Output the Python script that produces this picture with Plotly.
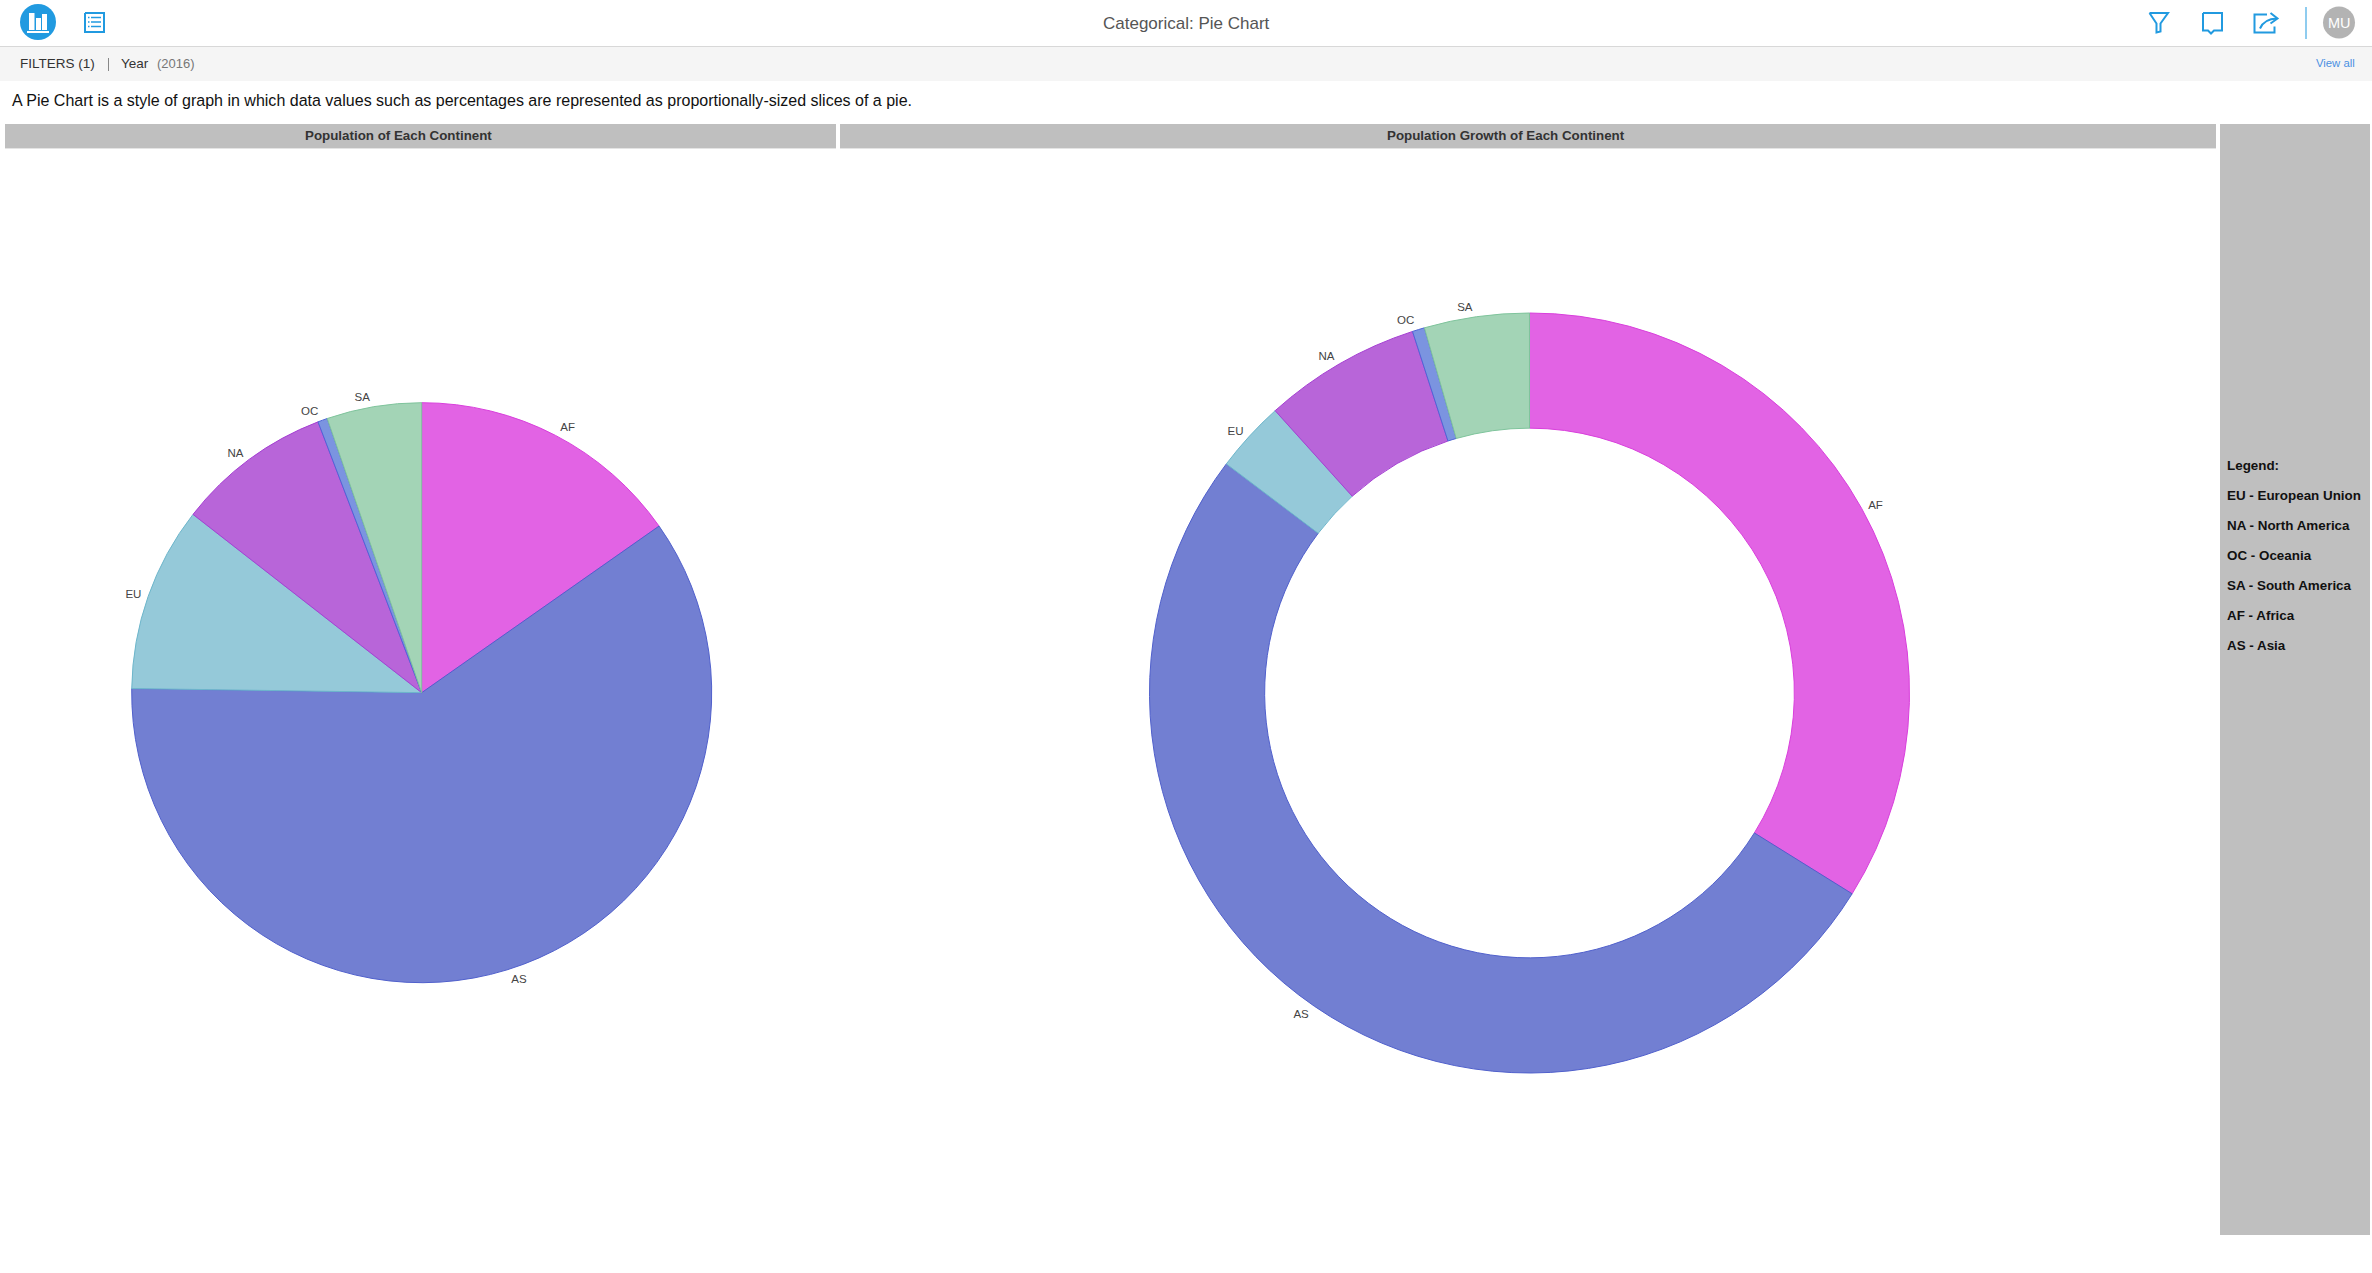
import plotly.graph_objects as go

W = 2372
H = 1273

continents = ['AF', 'AS', 'EU', 'NA', 'OC', 'SA']
population = [15.26, 59.97, 10.31, 8.64, 0.54, 5.28]
growth = [33.86, 51.44, 3.03, 6.69, 0.52, 4.46]

fill_colors = ['#e263e4', '#727fd2', '#95c9d9', '#b865d9', '#7b94e0', '#a3d4b6']
line_colors = ['#d93fdc', '#5060cc', '#6db6cb', '#a53fd3', '#4f66d6', '#7fc49c']

legend_lines = ['Legend:', 'EU - European Union', 'NA - North America', 'OC - Oceania',
                'SA - South America', 'AF - Africa', 'AS - Asia']

FONT = 'Liberation Sans'
BLUE = '#219ae0'
PANEL = '#bfbfbf'
LABEL_GAP = 4


def px(x, y):
    """pixel position on the page -> paper coordinates"""
    return x / W, 1 - y / H


def path(*points):
    """builds a closed-less svg path in paper coordinates from pixel points"""
    parts = []
    for i, (x, y) in enumerate(points):
        a, b = px(x, y)
        parts.append(('M' if i == 0 else 'L') + f'{a:.6f},{b:.6f}')
    return ' '.join(parts)


def pie_domain(cx, cy, r):
    return {'x': [(cx - r) / W, (cx + r) / W], 'y': [1 - (cy + r) / H, 1 - (cy - r) / H]}


def rect(x0, y0, x1, y1, color):
    a0, b0 = px(x0, y0)
    a1, b1 = px(x1, y1)
    return dict(type='rect', xref='paper', yref='paper', x0=a0, y0=b0, x1=a1, y1=b1,
                fillcolor=color, line={'width': 0}, layer='below')


def line(points, color=BLUE, width=2):
    return dict(type='path', xref='paper', yref='paper', path=path(*points),
                line={'color': color, 'width': width})


def circle(cx, cy, r, color):
    a0, b0 = px(cx - r, cy + r)
    a1, b1 = px(cx + r, cy - r)
    return dict(type='circle', xref='paper', yref='paper', x0=a0, y0=b0, x1=a1, y1=b1,
                fillcolor=color, line={'width': 0})


def label(x, y, text, size=13, color='#444444', anchor='left'):
    a, b = px(x, y)
    return dict(x=a, y=b, xref='paper', yref='paper', text=text, showarrow=False,
                xanchor=anchor, yanchor='middle', borderpad=0,
                font={'family': FONT, 'size': size, 'color': color})


def add_pie(fig, values, cx, cy, r, hole=0):
    fig.add_trace(go.Pie(
        labels=continents, values=values, domain=pie_domain(cx, cy, r), hole=hole,
        sort=False, direction='clockwise', rotation=0, textinfo='none',
        marker={'colors': fill_colors, 'line': {'color': line_colors, 'width': 1}},
        showlegend=False))
    # same slices, slightly wider and see-through: only carries the outside labels
    fig.add_trace(go.Pie(
        labels=continents, values=values, domain=pie_domain(cx, cy, r + LABEL_GAP),
        sort=False, direction='clockwise', rotation=0,
        textinfo='label', textposition='outside', automargin=False,
        textfont={'family': FONT, 'size': 11.5, 'color': '#444444'},
        marker={'colors': ['rgba(0,0,0,0)'] * 6, 'line': {'width': 0}},
        hoverinfo='skip', showlegend=False))


fig = go.Figure()
add_pie(fig, population, 421.7, 692.7, 290)
add_pie(fig, growth, 1529.5, 693, 380, hole=0.697)

# page chrome
shapes = [
    rect(0, 46, W, 47, '#d8d8d8'),
    rect(0, 47, W, 81, '#f5f5f5'),
    rect(108, 58, 109, 71, '#888888'),
    rect(5, 124, 836, 148, PANEL),
    rect(840, 124, 2216, 148, PANEL),
    rect(5, 148, 836, 149, '#e4e4e4'),
    rect(840, 148, 2216, 149, '#e4e4e4'),
    rect(2220, 124, 2370, 1235, PANEL),
    rect(2305.5, 7, 2306.5, 39, BLUE),
]

# chart icon
shapes.append(circle(38, 22, 18, BLUE))
for x0, y0, x1, y1 in [(29, 13, 34.5, 30), (36, 18, 41, 30), (42, 14, 47, 30), (27, 31, 49, 33)]:
    s = rect(x0, y0, x1, y1, 'white')
    s['layer'] = 'above'
    shapes.append(s)

# list icon
shapes.append(line([(85, 13), (104, 13), (104, 32), (85, 32), (85, 13)]))
for y in (17.5, 22, 26.5):
    shapes.append(line([(88, y), (89.5, y)], width=1.5))
    shapes.append(line([(91, y), (101, y)], width=1.5))

# filter, comment, share icons
shapes.append(line([(2149.5, 13), (2168, 13), (2160.5, 23.5), (2160.5, 31.5), (2156.5, 32.5),
                    (2156.5, 23.5), (2149.5, 13)]))
shapes.append(line([(2203, 13), (2222, 13), (2222, 30.5), (2214, 30.5), (2211, 33.5),
                    (2208, 30.5), (2203, 30.5), (2203, 13)]))
shapes.append(line([(2267, 14.5), (2254.5, 14.5), (2254.5, 32.5), (2274.5, 32.5), (2274.5, 26.5)]))
a0, b0 = px(2260, 28.5)
a1, b1 = px(2264, 19)
a2, b2 = px(2277, 18.5)
shapes.append(dict(type='path', xref='paper', yref='paper',
                   path=f'M{a0:.6f},{b0:.6f} Q{a1:.6f},{b1:.6f} {a2:.6f},{b2:.6f}',
                   line={'color': BLUE, 'width': 2}))
shapes.append(line([(2270.5, 13), (2277.5, 18.5), (2270.5, 23.5)]))

shapes.append(circle(2339, 22.5, 16, '#b3b3b3'))

annotations = [
    label(1186, 23, 'Categorical: Pie Chart', size=17, color='#555555', anchor='center'),
    label(2339, 23, 'MU', size=14.5, color='white', anchor='center'),
    label(19, 64, 'FILTERS (1)', size=13.5, color='#333333'),
    label(120, 64, 'Year', size=13.5, color='#333333'),
    label(155.5, 64, '(2016)', size=13, color='#777777'),
    label(2356, 63.5, 'View all', size=11.3, color='#4a90e2', anchor='right'),
    label(11, 99.5, 'A Pie Chart is a style of graph in which data values such as percentages '
                    'are represented as proportionally-sized slices of a pie.', size=16.03, color='#111111'),
    label(398, 135, '<b>Population of Each Continent</b>', size=13.35, color='#333333', anchor='center'),
    label(1506, 135, '<b>Population Growth of Each Continent</b>', size=13.35, color='#333333', anchor='center'),
]
for i, text in enumerate(legend_lines):
    annotations.append(label(2226, 465.5 + i * 30, f'<b>{text}</b>', size=13.4, color='#111111'))

fig.update_layout(width=W, height=H, margin={'l': 0, 'r': 0, 't': 0, 'b': 0, 'pad': 0},
                  paper_bgcolor='white', plot_bgcolor='white',
                  shapes=shapes, annotations=annotations)

fig.write_html('out.html', config={'displayModeBar': False},
               post_script="document.body.style.margin='0';document.body.style.overflow='hidden';")
